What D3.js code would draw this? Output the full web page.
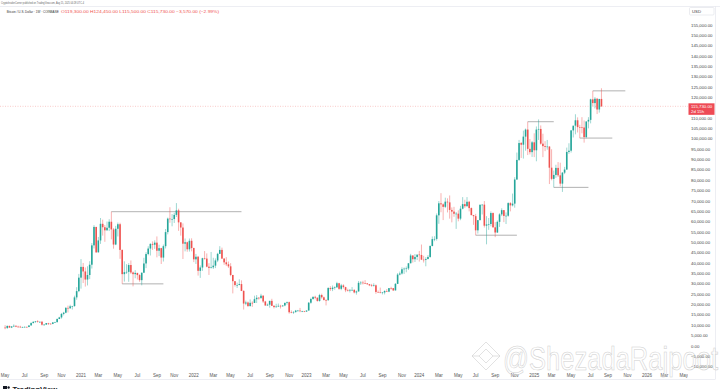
<!DOCTYPE html>
<html><head><meta charset="utf-8">
<script src="https://cdn.jsdelivr.net/npm/d3@7/dist/d3.min.js"></script>
<style>
body{margin:0;background:#fff}
svg{display:block}
text{font-family:"Liberation Sans",Arial,sans-serif}
</style></head>
<body><svg id="c" width="720" height="389"></svg>
<script>
// ---- DATA: Bitcoin / U.S. Dollar, weekly (COINBASE), values in thousands of USD ----
const firstWeek = "2020-05-04";   // Monday of the first weekly candle
const firstOpen = 8.9;            // open of the first candle (later opens = prior weekly close)

const high = [
 // 2020
 10.07,9.95,9.89,9.6,10.43,10.0,9.8,9.78,9.35,9.48,9.35,9.95,11.45,11.9,12.08,12.47,11.8,12.09,10.6,11.1,11.2,10.95,11.5,11.72,13.35,14.09,15.97,16.5,18.8,19.5,19.92,19.4,24.3,28.4,34.8,
 // 2021
 41.95,40.1,37.9,38.5,40.95,49.7,58.35,57.5,52.64,61.8,61.0,58.4,60.1,61.2,64.85,57.0,58.0,59.6,59.5,46.6,40.9,39.5,40.0,41.3,36.0,36.6,35.3,34.7,35.4,42.6,45.3,48.15,49.6,50.5,51.0,52.9,48.9,47.4,49.0,56.5,62.0,67.0,63.7,64.3,69.0,66.3,59.7,59.2,51.9,50.4,51.9,52.0,
 // 2022
 47.5,44.45,43.5,38.9,42.6,45.85,44.7,40.0,45.4,42.6,42.3,45.0,48.2,47.5,42.4,42.9,40.8,40.0,34.3,31.3,30.6,32.2,31.7,26.9,21.9,21.5,22.5,21.6,24.3,24.6,23.6,25.2,24.45,21.8,20.5,21.8,22.8,19.7,20.4,20.5,19.9,19.7,21.0,21.5,21.45,17.2,16.8,17.4,17.4,18.4,17.0,16.95,
 // 2023
 17.2,21.25,23.3,23.9,24.25,23.4,25.2,25.25,23.9,22.6,28.4,28.9,29.2,28.8,31.0,30.5,30.0,29.8,28.6,27.65,27.5,28.45,27.4,26.8,31.4,31.3,31.5,31.8,30.35,29.95,30.0,30.25,29.7,26.8,28.2,26.1,26.9,27.48,27.9,28.6,28.0,30.4,35.2,35.95,38.0,37.9,38.4,40.0,44.5,43.8,44.4,43.8,
 // 2024
 45.9,49.0,43.55,42.85,43.9,48.6,52.9,53.0,64.0,70.0,73.8,68.9,71.6,71.3,72.7,66.9,67.2,64.7,65.5,67.7,71.9,70.6,71.9,70.1,66.9,63.3,63.8,60.3,68.3,68.4,70.0,62.7,61.8,65.0,64.5,59.8,60.6,64.1,66.5,65.6,64.5,69.4,69.5,73.6,81.5,93.4,99.5,98.5,104.0,105.0,108.3,99.95,99.0,
 // 2025
 102.7,106.0,109.4,106.5,102.5,98.9,99.5,96.5,95.0,84.7,87.5,88.8,88.5,84.0,86.5,95.8,97.9,104.3,105.7,111.9,110.4,106.8,110.5,108.9,108.5,110.5,119.4,123.2,120.2,119.8,119.3,124.45
];
const low = [
 8.12,8.2,8.8,8.64,9.26,9.1,8.9,8.83,8.9,9.05,9.0,9.1,9.9,10.9,11.15,11.3,11.12,9.88,9.85,10.2,10.14,10.37,10.53,11.2,11.4,12.98,13.2,14.8,15.8,16.2,18.1,17.6,19.0,22.35,26.0,
 27.7,30.4,28.7,29.25,32.3,37.4,47.1,44.9,45.1,49.3,53.3,50.3,55.8,55.5,51.5,47.0,48.7,52.9,42.1,30.0,31.1,34.8,31.0,34.8,28.8,32.7,32.1,31.0,29.3,35.2,37.6,43.8,43.7,46.4,46.9,42.8,43.4,39.6,40.8,47.1,53.9,59.5,57.8,59.4,62.3,55.6,53.3,42.0,45.7,45.5,45.6,45.7,
 40.5,39.6,34.0,32.9,36.3,41.7,38.0,34.3,37.4,37.2,37.6,40.5,44.4,42.1,39.2,38.6,37.7,33.7,25.4,28.7,28.0,29.3,26.5,17.6,19.7,18.8,19.0,18.9,20.75,20.75,22.4,22.7,20.8,19.5,19.5,18.5,19.3,18.15,18.5,19.0,18.1,18.9,19.2,20.0,15.6,15.8,15.5,16.0,16.7,16.3,16.35,16.35,
 16.5,17.1,20.4,22.3,22.5,21.4,21.4,22.8,21.95,19.6,21.9,26.6,26.5,27.2,28.2,27.1,26.95,27.7,26.0,26.3,25.85,26.6,25.4,24.8,26.25,29.5,29.7,29.95,29.5,28.9,28.6,28.7,25.2,25.8,25.4,24.9,24.9,26.2,26.0,27.2,26.55,26.8,29.9,34.1,34.5,34.8,35.6,36.7,39.9,40.3,40.55,41.5,
 40.75,41.5,40.3,38.5,41.8,42.6,48.1,50.6,50.9,59.0,64.6,60.8,66.6,64.5,61.5,59.7,62.4,56.55,60.2,60.75,66.0,66.7,67.3,65.0,63.1,58.5,53.5,54.3,60.6,63.5,57.2,49.1,56.1,57.8,57.2,52.55,54.6,57.5,62.7,59.8,58.9,62.4,65.0,67.4,66.8,80.2,89.35,90.8,90.5,94.3,92.2,92.5,91.3,
 91.2,89.2,99.5,97.2,91.2,94.1,94.8,78.2,80.0,76.6,81.2,81.6,77.1,74.4,83.0,85.1,92.8,93.4,100.7,102.2,103.1,100.4,102.7,98.2,100.3,105.1,107.5,115.7,114.7,112.0,112.7,115.5
];
const close = [
 8.72,9.68,8.9,9.45,9.75,9.34,9.3,9.0,9.07,9.23,9.16,9.93,11.07,11.68,11.9,11.65,11.7,10.28,10.33,11.08,10.77,10.67,11.39,11.5,13.03,13.8,15.48,16.08,18.4,18.18,19.15,19.27,23.48,26.5,33.0,
 38.2,36.0,32.1,34.28,39.25,48.6,57.5,45.24,50.97,59.0,57.35,55.85,57.1,60.0,56.3,49.0,56.6,58.8,46.4,34.7,35.65,35.8,39.1,35.5,34.7,35.3,34.25,31.8,35.4,39.85,44.4,47.05,49.3,48.9,49.9,46.0,47.25,42.7,48.2,55.0,61.5,61.3,61.3,63.3,65.5,59.7,57.2,49.4,50.1,46.7,50.8,47.3,
 41.85,43.1,36.3,37.9,42.4,42.2,38.3,37.7,38.0,38.8,41.3,44.5,46.4,42.2,40.4,39.45,38.47,34.3,31.3,29.45,29.45,29.9,26.6,20.5,21.0,19.3,20.85,20.8,22.6,23.3,23.2,24.3,21.5,19.55,19.95,21.8,19.4,18.8,19.05,19.4,19.2,19.56,20.8,21.15,16.3,16.25,16.45,17.1,17.1,16.8,16.85,16.62,
 17.13,20.9,22.7,23.74,23.33,21.78,24.6,23.5,22.2,22.1,27.99,27.48,28.17,28.32,30.3,27.6,29.25,28.43,26.9,26.75,27.1,27.1,25.85,26.35,30.5,30.6,30.3,30.25,29.85,29.3,29.05,29.3,26.1,26.0,25.85,25.85,26.55,26.25,27.95,27.93,26.85,30.0,34.5,35.0,37.05,37.35,37.45,39.95,43.7,41.9,43.0,44.15,
 43.95,41.7,41.6,42.0,43.0,48.3,51.6,51.7,63.1,68.9,68.4,67.2,69.7,69.35,65.7,64.9,63.85,63.9,61.5,66.3,68.5,67.5,69.65,66.6,63.2,62.7,55.85,60.8,68.2,68.25,58.1,58.7,58.9,64.2,57.3,54.8,59.95,63.55,65.6,62.8,62.9,69.0,67.9,68.75,80.4,89.85,98.0,97.2,101.1,104.5,95.2,93.6,98.35,
 94.5,104.5,104.8,97.7,96.5,96.1,96.3,86.1,80.7,82.6,86.0,82.4,78.4,83.7,85.2,93.7,94.3,104.1,106.4,109.0,105.7,105.6,105.5,100.9,108.4,109.2,119.1,117.3,119.4,114.2,119.3,115.73
];

// horizontal level lines drawn on the chart
const levelStart = ["2021-04-12","2021-05-17","2024-07-01","2024-12-16","2025-03-10","2025-06-02","2025-07-14"];
const levelEnd   = ["2022-06-06","2021-09-27","2024-11-11","2025-03-10","2025-06-30","2025-09-15","2025-10-27"];
const levelValue = [64.85,30.0,53.5,108.3,76.6,100.4,123.2];

// axis ticks
const priceTicks = [-10,-5,0,5,10,15,20,25,30,35,40,45,50,55,60,65,70,75,80,85,90,95,100,105,110,115,120,125,130,135,140,145,150,155];
const timeTickMonths = ["2020-05","2020-07","2020-09","2020-11","2021-01","2021-03","2021-05","2021-07","2021-09","2021-11",
 "2022-01","2022-03","2022-05","2022-07","2022-09","2022-11","2023-01","2023-03","2023-05","2023-07","2023-09","2023-11",
 "2024-01","2024-03","2024-05","2024-07","2024-09","2024-11","2025-01","2025-03","2025-05","2025-07","2025-09","2025-11",
 "2026-01","2026-03","2026-05"];
const timeTickLabels = ["May","Jul","Sep","Nov","2021","Mar","May","Jul","Sep","Nov","2022","Mar","May","Jul","Sep","Nov",
 "2023","Mar","May","Jul","Sep","Nov","2024","Mar","May","Jul","Sep","Nov","2025","Mar","May","Jul","Sep","Nov","2026","Mar","May"];

// ---- DRAW ----
const UP="#26a69a", DOWN="#ef5350";
const svg=d3.select("#c");
const parse=d3.timeParse("%Y-%m-%d");
const x=d3.scaleTime().domain([new Date(2021,0,4),new Date(2026,0,5)]).range([81,647]);
const y=d3.scaleLinear().domain([0,155]).range([346,25]);

const start=parse(firstWeek);
const data=close.map((c,i)=>({d:d3.timeMonday.offset(start,i),o:i?close[i-1]:firstOpen,h:high[i],l:low[i],c}));

const defs=svg.append("defs");
defs.append("clipPath").attr("id","plot").append("rect").attr("x",0).attr("y",16).attr("width",688).attr("height",363);
defs.append("clipPath").attr("id","taxis").append("rect").attr("x",0).attr("y",365).attr("width",688).attr("height",14);

// header
svg.append("text").attr("x",1).attr("y",3.8).attr("font-size",3.9).attr("fill","#666")
  .attr("textLength",83).attr("lengthAdjust","spacingAndGlyphs")
  .text("CryptoInsiderCorner published on TradingView.com, Aug 15, 2025 04:28 UTC-4");
svg.append("line").attr("x1",0).attr("x2",720).attr("y1",6.5).attr("y2",6.5).attr("stroke","#e0e3eb").attr("stroke-width",0.6);
const last=data[data.length-1];
const f2=d3.format(",.2f");
const chg=(last.c-last.o)*1000, pct=(last.c-last.o)/last.o*100;
svg.append("text").attr("x",6.7).attr("y",13).attr("font-size",4.1).attr("fill","#333")
  .attr("textLength",52).attr("lengthAdjust","spacingAndGlyphs")
  .text("Bitcoin / U.S. Dollar · 1W · COINBASE");
svg.append("text").attr("x",61).attr("y",13).attr("font-size",4.1).attr("fill",DOWN)
  .attr("textLength",158).attr("lengthAdjust","spacingAndGlyphs")
  .text(`O${f2(last.o*1000)} H${f2(last.h*1000)} L${f2(last.l*1000)} C${f2(last.c*1000)} ${d3.format(",.2f")(chg)} (${d3.format(".2f")(pct)}%)`);

// plot
const g=svg.append("g").attr("clip-path","url(#plot)");
// current price dashed line
g.append("line").attr("x1",0).attr("x2",688).attr("y1",y(last.c)).attr("y2",y(last.c))
  .attr("stroke",DOWN).attr("stroke-opacity",0.6).attr("stroke-width",0.5).attr("stroke-dasharray","1,1.5");

// level lines
g.selectAll("line.lvl").data(levelValue).join("line").attr("class","lvl")
  .attr("x1",(v,i)=>x(parse(levelStart[i]))).attr("x2",(v,i)=>x(parse(levelEnd[i])))
  .attr("y1",v=>y(v)).attr("y2",v=>y(v))
  .attr("stroke","#9e9e9e").attr("stroke-width",0.8);

// candles
const cg=g.selectAll("g.c").data(data).join("g").attr("class","c");
cg.append("line").attr("x1",d=>x(d.d)).attr("x2",d=>x(d.d)).attr("y1",d=>y(d.h)).attr("y2",d=>y(d.l))
  .attr("stroke",d=>d.c>=d.o?UP:DOWN).attr("stroke-width",0.6).attr("stroke-opacity",0.75);
cg.append("rect").attr("x",d=>x(d.d)-0.8).attr("width",1.6)
  .attr("y",d=>y(Math.max(d.o,d.c)))
  .attr("height",d=>Math.max(0.6,Math.abs(y(d.o)-y(d.c))))
  .attr("fill",d=>d.c>=d.o?UP:DOWN);

// time axis labels
const tg=svg.append("g").attr("clip-path","url(#taxis)");
tg.selectAll("text").data(timeTickMonths).join("text")
  .attr("x",m=>x(d3.timeMonday.ceil(d3.timeParse("%Y-%m")(m))))
  .attr("y",376.5).attr("text-anchor","middle").attr("font-size",4.5).attr("fill","#555")
  .text((m,i)=>timeTickLabels[i]);

// frame lines
svg.append("line").attr("x1",0).attr("x2",715).attr("y1",379.5).attr("y2",379.5).attr("stroke","#e0e3eb").attr("stroke-width",0.6);
svg.append("line").attr("x1",715.5).attr("x2",715.5).attr("y1",6.5).attr("y2",379.5).attr("stroke","#e0e3eb").attr("stroke-width",0.6);

// price axis
const yC=y(last.c);
const ticks=priceTicks.filter(v=>Math.abs(y(v)-yC)>7);
svg.append("g").selectAll("text").data(ticks).join("text")
  .attr("x",691).attr("y",v=>y(v)+1.5).attr("font-size",4.3).attr("fill","#444")
  .text(v=>f2(v*1000));
svg.append("rect").attr("x",689.5).attr("y",7.5).attr("width",24.5).attr("height",7.5)
  .attr("fill","#fff").attr("stroke","#d6d9e0").attr("stroke-width",0.5).attr("rx",1);
svg.append("text").attr("x",692).attr("y",12.8).attr("font-size",4.3).attr("fill","#444").text("USD");
svg.append("rect").attr("x",688.5).attr("y",yC-3).attr("width",26).attr("height",11.5).attr("fill","#ee4b55");
svg.append("text").attr("x",691).attr("y",yC+1.6).attr("font-size",4.3).attr("fill","#fff").text(f2(last.c*1000));
svg.append("text").attr("x",691).attr("y",yC+6.8).attr("font-size",4.3).attr("fill","#fff").text("2d 15h");

// watermark
const wm=svg.append("g").attr("fill","none").attr("stroke","#cfcfcf").attr("stroke-width",0.6);
wm.append("path").attr("d","M486,342 L500,356 L486,370 L472,356 Z");
wm.append("path").attr("d","M486,349 L493,356 L486,363 L479,356 Z");
wm.append("path").attr("d","M472,356 L479,356 M493,356 L500,356");
wm.append("text").attr("x",503).attr("y",370).attr("font-size",33)
  .attr("textLength",215).attr("lengthAdjust","spacingAndGlyphs").text("@ShezadaRajpoot");

// TradingView footer logo
svg.append("rect").attr("x",3).attr("y",386).attr("width",4).attr("height",6).attr("fill","#131722");
svg.append("circle").attr("cx",8.6).attr("cy",387.5).attr("r",1.2).attr("fill","#131722");
svg.append("text").attr("x",12.5).attr("y",391.5).attr("font-size",7.6).attr("font-weight","bold").attr("fill","#131722").text("TradingView");
</script>
</body></html>
